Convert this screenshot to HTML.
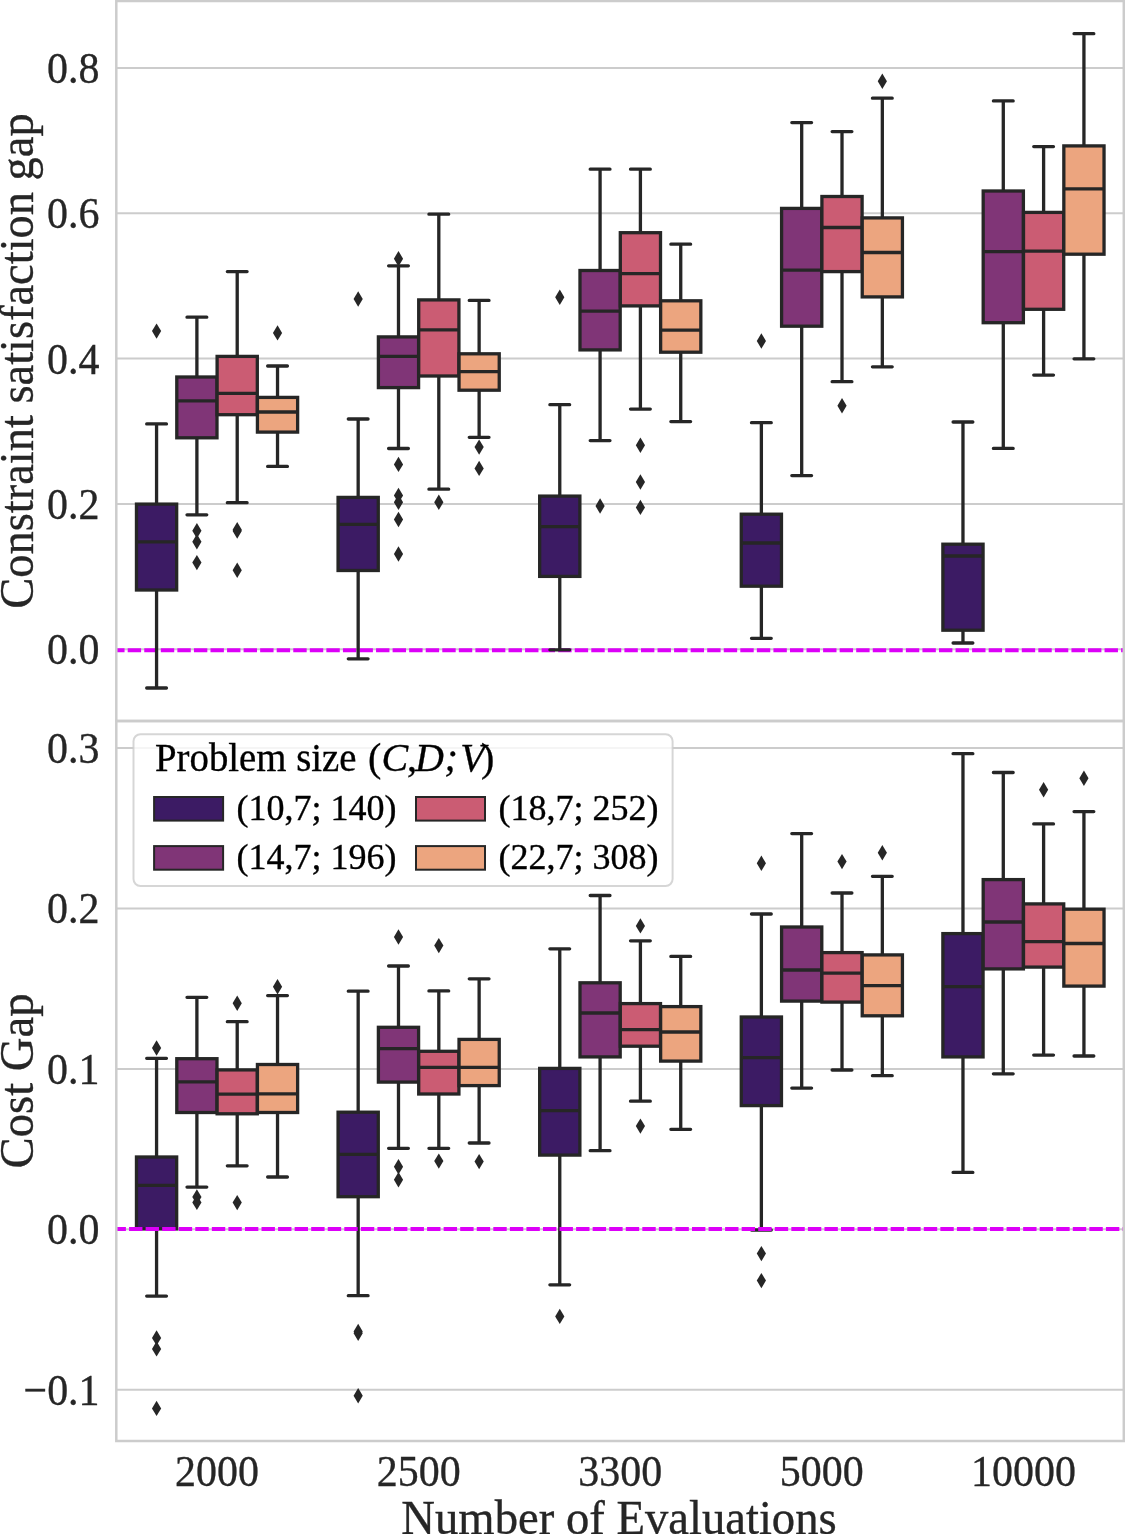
<!DOCTYPE html>
<html><head><meta charset="utf-8"><style>
html,body{margin:0;padding:0;background:#fff;width:1125px;height:1534px;overflow:hidden}
svg{display:block;will-change:transform}
text{font-family:"Liberation Serif",serif}
</style></head><body>
<svg width="1125" height="1534" viewBox="0 0 1125 1534">
<rect width="1125" height="1534" fill="#ffffff"/>
<defs><clipPath id="ct"><rect x="116" y="1" width="1008" height="720"/></clipPath><clipPath id="cb"><rect x="116" y="721" width="1008" height="720"/></clipPath></defs>
<g clip-path="url(#ct)">
<path d="M116.25 649.3H1124.25" stroke="#cccccc" stroke-width="2" fill="none"/>
<path d="M116.25 503.96H1124.25" stroke="#cccccc" stroke-width="2" fill="none"/>
<path d="M116.25 358.62H1124.25" stroke="#cccccc" stroke-width="2" fill="none"/>
<path d="M116.25 213.28H1124.25" stroke="#cccccc" stroke-width="2" fill="none"/>
<path d="M116.25 67.94H1124.25" stroke="#cccccc" stroke-width="2" fill="none"/>
<path d="M111.14 650.3H1130" stroke="#dc00f8" stroke-width="4" stroke-dasharray="13.4 3.157" fill="none"/>
<path d="M156.57 504.1V423.9M156.57 590V688" stroke="#262626" stroke-width="3.3" fill="none"/>
<path d="M146.69 423.9H166.45M146.69 688H166.45" stroke="#262626" stroke-width="3.3" stroke-linecap="round" fill="none"/>
<rect x="136.47" y="504.1" width="40.2" height="85.9" fill="#3c1b64" stroke="#262626" stroke-width="3.3"/>
<path d="M136.47 541.8H176.67" stroke="#262626" stroke-width="3.3" fill="none"/>
<path d="M156.57 323.4L161.17 331.1L156.57 338.8L151.97 331.1Z" fill="#262626"/>
<path d="M196.89 377V317.2M196.89 437.8V514.8" stroke="#262626" stroke-width="3.3" fill="none"/>
<path d="M187.01 317.2H206.77M187.01 514.8H206.77" stroke="#262626" stroke-width="3.3" stroke-linecap="round" fill="none"/>
<rect x="176.79" y="377" width="40.2" height="60.8" fill="#803577" stroke="#262626" stroke-width="3.3"/>
<path d="M176.79 400.8H216.99" stroke="#262626" stroke-width="3.3" fill="none"/>
<path d="M196.89 523.1L201.49 530.8L196.89 538.5L192.29 530.8Z" fill="#262626"/>
<path d="M196.89 534.1L201.49 541.8L196.89 549.5L192.29 541.8Z" fill="#262626"/>
<path d="M196.89 554.9L201.49 562.6L196.89 570.3L192.29 562.6Z" fill="#262626"/>
<path d="M237.21 356.4V271.6M237.21 414.7V502.7" stroke="#262626" stroke-width="3.3" fill="none"/>
<path d="M227.33 271.6H247.09M227.33 502.7H247.09" stroke="#262626" stroke-width="3.3" stroke-linecap="round" fill="none"/>
<rect x="217.11" y="356.4" width="40.2" height="58.3" fill="#cb5c73" stroke="#262626" stroke-width="3.3"/>
<path d="M217.11 393.3H257.31" stroke="#262626" stroke-width="3.3" fill="none"/>
<path d="M237.21 522L241.81 529.7L237.21 537.4L232.61 529.7Z" fill="#262626"/>
<path d="M237.21 523.4L241.81 531.1L237.21 538.8L232.61 531.1Z" fill="#262626"/>
<path d="M237.21 562.5L241.81 570.2L237.21 577.9L232.61 570.2Z" fill="#262626"/>
<path d="M277.53 397.4V366M277.53 432.1V466.4" stroke="#262626" stroke-width="3.3" fill="none"/>
<path d="M267.65 366H287.41M267.65 466.4H287.41" stroke="#262626" stroke-width="3.3" stroke-linecap="round" fill="none"/>
<rect x="257.43" y="397.4" width="40.2" height="34.7" fill="#eca57f" stroke="#262626" stroke-width="3.3"/>
<path d="M257.43 412H297.63" stroke="#262626" stroke-width="3.3" fill="none"/>
<path d="M277.53 325.2L282.13 332.9L277.53 340.6L272.93 332.9Z" fill="#262626"/>
<path d="M358.17 497.4V419M358.17 570.5V658.8" stroke="#262626" stroke-width="3.3" fill="none"/>
<path d="M348.29 419H368.05M348.29 658.8H368.05" stroke="#262626" stroke-width="3.3" stroke-linecap="round" fill="none"/>
<rect x="338.07" y="497.4" width="40.2" height="73.1" fill="#3c1b64" stroke="#262626" stroke-width="3.3"/>
<path d="M338.07 524.4H378.27" stroke="#262626" stroke-width="3.3" fill="none"/>
<path d="M358.17 291.3L362.77 299L358.17 306.7L353.57 299Z" fill="#262626"/>
<path d="M398.49 336.9V265.8M398.49 387.6V448.5" stroke="#262626" stroke-width="3.3" fill="none"/>
<path d="M388.61 265.8H408.37M388.61 448.5H408.37" stroke="#262626" stroke-width="3.3" stroke-linecap="round" fill="none"/>
<rect x="378.39" y="336.9" width="40.2" height="50.7" fill="#803577" stroke="#262626" stroke-width="3.3"/>
<path d="M378.39 356.4H418.59" stroke="#262626" stroke-width="3.3" fill="none"/>
<path d="M398.49 251L403.09 258.7L398.49 266.4L393.89 258.7Z" fill="#262626"/>
<path d="M398.49 456.7L403.09 464.4L398.49 472.1L393.89 464.4Z" fill="#262626"/>
<path d="M398.49 487.7L403.09 495.4L398.49 503.1L393.89 495.4Z" fill="#262626"/>
<path d="M398.49 494.5L403.09 502.2L398.49 509.9L393.89 502.2Z" fill="#262626"/>
<path d="M398.49 511.8L403.09 519.5L398.49 527.2L393.89 519.5Z" fill="#262626"/>
<path d="M398.49 546.3L403.09 554L398.49 561.7L393.89 554Z" fill="#262626"/>
<path d="M438.81 299.9V214.2M438.81 376V489.2" stroke="#262626" stroke-width="3.3" fill="none"/>
<path d="M428.93 214.2H448.69M428.93 489.2H448.69" stroke="#262626" stroke-width="3.3" stroke-linecap="round" fill="none"/>
<rect x="418.71" y="299.9" width="40.2" height="76.1" fill="#cb5c73" stroke="#262626" stroke-width="3.3"/>
<path d="M418.71 329.8H458.91" stroke="#262626" stroke-width="3.3" fill="none"/>
<path d="M438.81 494.5L443.41 502.2L438.81 509.9L434.21 502.2Z" fill="#262626"/>
<path d="M479.13 353.8V300.4M479.13 390.2V437.3" stroke="#262626" stroke-width="3.3" fill="none"/>
<path d="M469.25 300.4H489.01M469.25 437.3H489.01" stroke="#262626" stroke-width="3.3" stroke-linecap="round" fill="none"/>
<rect x="459.03" y="353.8" width="40.2" height="36.4" fill="#eca57f" stroke="#262626" stroke-width="3.3"/>
<path d="M459.03 371.6H499.23" stroke="#262626" stroke-width="3.3" fill="none"/>
<path d="M479.13 439.4L483.73 447.1L479.13 454.8L474.53 447.1Z" fill="#262626"/>
<path d="M479.13 460.7L483.73 468.4L479.13 476.1L474.53 468.4Z" fill="#262626"/>
<path d="M559.77 496.1V404.7M559.77 576.4V649.8" stroke="#262626" stroke-width="3.3" fill="none"/>
<path d="M549.89 404.7H569.65M549.89 649.8H569.65" stroke="#262626" stroke-width="3.3" stroke-linecap="round" fill="none"/>
<rect x="539.67" y="496.1" width="40.2" height="80.3" fill="#3c1b64" stroke="#262626" stroke-width="3.3"/>
<path d="M539.67 526.6H579.87" stroke="#262626" stroke-width="3.3" fill="none"/>
<path d="M559.77 289.5L564.37 297.2L559.77 304.9L555.17 297.2Z" fill="#262626"/>
<path d="M600.09 270.5V169.2M600.09 349.9V440.6" stroke="#262626" stroke-width="3.3" fill="none"/>
<path d="M590.21 169.2H609.97M590.21 440.6H609.97" stroke="#262626" stroke-width="3.3" stroke-linecap="round" fill="none"/>
<rect x="579.99" y="270.5" width="40.2" height="79.4" fill="#803577" stroke="#262626" stroke-width="3.3"/>
<path d="M579.99 311.1H620.19" stroke="#262626" stroke-width="3.3" fill="none"/>
<path d="M600.09 498.3L604.69 506L600.09 513.7L595.49 506Z" fill="#262626"/>
<path d="M640.41 232.7V169.2M640.41 305.9V409.1" stroke="#262626" stroke-width="3.3" fill="none"/>
<path d="M630.53 169.2H650.29M630.53 409.1H650.29" stroke="#262626" stroke-width="3.3" stroke-linecap="round" fill="none"/>
<rect x="620.31" y="232.7" width="40.2" height="73.2" fill="#cb5c73" stroke="#262626" stroke-width="3.3"/>
<path d="M620.31 273.6H660.51" stroke="#262626" stroke-width="3.3" fill="none"/>
<path d="M640.41 437.5L645.01 445.2L640.41 452.9L635.81 445.2Z" fill="#262626"/>
<path d="M640.41 474.3L645.01 482L640.41 489.7L635.81 482Z" fill="#262626"/>
<path d="M640.41 499.7L645.01 507.4L640.41 515.1L635.81 507.4Z" fill="#262626"/>
<path d="M680.73 300.8V244.2M680.73 352.2V421.6" stroke="#262626" stroke-width="3.3" fill="none"/>
<path d="M670.85 244.2H690.61M670.85 421.6H690.61" stroke="#262626" stroke-width="3.3" stroke-linecap="round" fill="none"/>
<rect x="660.63" y="300.8" width="40.2" height="51.4" fill="#eca57f" stroke="#262626" stroke-width="3.3"/>
<path d="M660.63 330.1H700.83" stroke="#262626" stroke-width="3.3" fill="none"/>
<path d="M761.37 514.2V422.7M761.37 586.2V638.3" stroke="#262626" stroke-width="3.3" fill="none"/>
<path d="M751.49 422.7H771.25M751.49 638.3H771.25" stroke="#262626" stroke-width="3.3" stroke-linecap="round" fill="none"/>
<rect x="741.27" y="514.2" width="40.2" height="72" fill="#3c1b64" stroke="#262626" stroke-width="3.3"/>
<path d="M741.27 543H781.47" stroke="#262626" stroke-width="3.3" fill="none"/>
<path d="M761.37 333.3L765.97 341L761.37 348.7L756.77 341Z" fill="#262626"/>
<path d="M801.69 208.4V122.6M801.69 326.2V475.6" stroke="#262626" stroke-width="3.3" fill="none"/>
<path d="M791.81 122.6H811.57M791.81 475.6H811.57" stroke="#262626" stroke-width="3.3" stroke-linecap="round" fill="none"/>
<rect x="781.59" y="208.4" width="40.2" height="117.8" fill="#803577" stroke="#262626" stroke-width="3.3"/>
<path d="M781.59 270.2H821.79" stroke="#262626" stroke-width="3.3" fill="none"/>
<path d="M842.01 196.5V131.6M842.01 271.6V381.7" stroke="#262626" stroke-width="3.3" fill="none"/>
<path d="M832.13 131.6H851.89M832.13 381.7H851.89" stroke="#262626" stroke-width="3.3" stroke-linecap="round" fill="none"/>
<rect x="821.91" y="196.5" width="40.2" height="75.1" fill="#cb5c73" stroke="#262626" stroke-width="3.3"/>
<path d="M821.91 227.5H862.11" stroke="#262626" stroke-width="3.3" fill="none"/>
<path d="M842.01 398L846.61 405.7L842.01 413.4L837.41 405.7Z" fill="#262626"/>
<path d="M882.33 217.9V98.2M882.33 296.9V366.8" stroke="#262626" stroke-width="3.3" fill="none"/>
<path d="M872.45 98.2H892.21M872.45 366.8H892.21" stroke="#262626" stroke-width="3.3" stroke-linecap="round" fill="none"/>
<rect x="862.23" y="217.9" width="40.2" height="79" fill="#eca57f" stroke="#262626" stroke-width="3.3"/>
<path d="M862.23 252.5H902.43" stroke="#262626" stroke-width="3.3" fill="none"/>
<path d="M882.33 73.6L886.93 81.3L882.33 89L877.73 81.3Z" fill="#262626"/>
<path d="M962.97 544.2V422M962.97 630.2V643" stroke="#262626" stroke-width="3.3" fill="none"/>
<path d="M953.09 422H972.85M953.09 643H972.85" stroke="#262626" stroke-width="3.3" stroke-linecap="round" fill="none"/>
<rect x="942.87" y="544.2" width="40.2" height="86" fill="#3c1b64" stroke="#262626" stroke-width="3.3"/>
<path d="M942.87 556H983.07" stroke="#262626" stroke-width="3.3" fill="none"/>
<path d="M1003.29 191V100.9M1003.29 322.7V448.4" stroke="#262626" stroke-width="3.3" fill="none"/>
<path d="M993.41 100.9H1013.17M993.41 448.4H1013.17" stroke="#262626" stroke-width="3.3" stroke-linecap="round" fill="none"/>
<rect x="983.19" y="191" width="40.2" height="131.7" fill="#803577" stroke="#262626" stroke-width="3.3"/>
<path d="M983.19 251.6H1023.39" stroke="#262626" stroke-width="3.3" fill="none"/>
<path d="M1043.61 212.4V146.6M1043.61 309.3V375.1" stroke="#262626" stroke-width="3.3" fill="none"/>
<path d="M1033.73 146.6H1053.49M1033.73 375.1H1053.49" stroke="#262626" stroke-width="3.3" stroke-linecap="round" fill="none"/>
<rect x="1023.51" y="212.4" width="40.2" height="96.9" fill="#cb5c73" stroke="#262626" stroke-width="3.3"/>
<path d="M1023.51 251.2H1063.71" stroke="#262626" stroke-width="3.3" fill="none"/>
<path d="M1083.93 145.9V33.7M1083.93 254.2V358.8" stroke="#262626" stroke-width="3.3" fill="none"/>
<path d="M1074.05 33.7H1093.81M1074.05 358.8H1093.81" stroke="#262626" stroke-width="3.3" stroke-linecap="round" fill="none"/>
<rect x="1063.83" y="145.9" width="40.2" height="108.3" fill="#eca57f" stroke="#262626" stroke-width="3.3"/>
<path d="M1063.83 188.9H1104.03" stroke="#262626" stroke-width="3.3" fill="none"/>
</g>
<g clip-path="url(#cb)">
<path d="M116.25 1389.8H1124.25" stroke="#cccccc" stroke-width="2" fill="none"/>
<path d="M116.25 1229.35H1124.25" stroke="#cccccc" stroke-width="2" fill="none"/>
<path d="M116.25 1068.9H1124.25" stroke="#cccccc" stroke-width="2" fill="none"/>
<path d="M116.25 908.45H1124.25" stroke="#cccccc" stroke-width="2" fill="none"/>
<path d="M116.25 748H1124.25" stroke="#cccccc" stroke-width="2" fill="none"/>
<path d="M156.57 1157V1058.3M156.57 1228.9V1296.1" stroke="#262626" stroke-width="3.3" fill="none"/>
<path d="M146.69 1058.3H166.45M146.69 1296.1H166.45" stroke="#262626" stroke-width="3.3" stroke-linecap="round" fill="none"/>
<rect x="136.47" y="1157" width="40.2" height="71.9" fill="#3c1b64" stroke="#262626" stroke-width="3.3"/>
<path d="M136.47 1185.3H176.67" stroke="#262626" stroke-width="3.3" fill="none"/>
<path d="M156.57 1040.3L161.17 1048L156.57 1055.7L151.97 1048Z" fill="#262626"/>
<path d="M156.57 1330.2L161.17 1337.9L156.57 1345.6L151.97 1337.9Z" fill="#262626"/>
<path d="M156.57 1341.2L161.17 1348.9L156.57 1356.6L151.97 1348.9Z" fill="#262626"/>
<path d="M156.57 1400.7L161.17 1408.4L156.57 1416.1L151.97 1408.4Z" fill="#262626"/>
<path d="M196.89 1058.7V997.3M196.89 1112.5V1187.1" stroke="#262626" stroke-width="3.3" fill="none"/>
<path d="M187.01 997.3H206.77M187.01 1187.1H206.77" stroke="#262626" stroke-width="3.3" stroke-linecap="round" fill="none"/>
<rect x="176.79" y="1058.7" width="40.2" height="53.8" fill="#803577" stroke="#262626" stroke-width="3.3"/>
<path d="M176.79 1081.8H216.99" stroke="#262626" stroke-width="3.3" fill="none"/>
<path d="M196.89 1189.3L201.49 1197L196.89 1204.7L192.29 1197Z" fill="#262626"/>
<path d="M196.89 1194.7L201.49 1202.4L196.89 1210.1L192.29 1202.4Z" fill="#262626"/>
<path d="M237.21 1069.9V1021.7M237.21 1113.8V1165.8" stroke="#262626" stroke-width="3.3" fill="none"/>
<path d="M227.33 1021.7H247.09M227.33 1165.8H247.09" stroke="#262626" stroke-width="3.3" stroke-linecap="round" fill="none"/>
<rect x="217.11" y="1069.9" width="40.2" height="43.9" fill="#cb5c73" stroke="#262626" stroke-width="3.3"/>
<path d="M217.11 1094.2H257.31" stroke="#262626" stroke-width="3.3" fill="none"/>
<path d="M237.21 995.5L241.81 1003.2L237.21 1010.9L232.61 1003.2Z" fill="#262626"/>
<path d="M237.21 1194.9L241.81 1202.6L237.21 1210.3L232.61 1202.6Z" fill="#262626"/>
<path d="M277.53 1064.5V995.6M277.53 1112.5V1177" stroke="#262626" stroke-width="3.3" fill="none"/>
<path d="M267.65 995.6H287.41M267.65 1177H287.41" stroke="#262626" stroke-width="3.3" stroke-linecap="round" fill="none"/>
<rect x="257.43" y="1064.5" width="40.2" height="48" fill="#eca57f" stroke="#262626" stroke-width="3.3"/>
<path d="M257.43 1093.8H297.63" stroke="#262626" stroke-width="3.3" fill="none"/>
<path d="M277.53 979L282.13 986.7L277.53 994.4L272.93 986.7Z" fill="#262626"/>
<path d="M358.17 1112.2V991.2M358.17 1196.7V1295.7" stroke="#262626" stroke-width="3.3" fill="none"/>
<path d="M348.29 991.2H368.05M348.29 1295.7H368.05" stroke="#262626" stroke-width="3.3" stroke-linecap="round" fill="none"/>
<rect x="338.07" y="1112.2" width="40.2" height="84.5" fill="#3c1b64" stroke="#262626" stroke-width="3.3"/>
<path d="M338.07 1154.4H378.27" stroke="#262626" stroke-width="3.3" fill="none"/>
<path d="M358.17 1323.7L362.77 1331.4L358.17 1339.1L353.57 1331.4Z" fill="#262626"/>
<path d="M358.17 1325.5L362.77 1333.2L358.17 1340.9L353.57 1333.2Z" fill="#262626"/>
<path d="M358.17 1388.1L362.77 1395.8L358.17 1403.5L353.57 1395.8Z" fill="#262626"/>
<path d="M398.49 1027.3V966M398.49 1082.1V1148.3" stroke="#262626" stroke-width="3.3" fill="none"/>
<path d="M388.61 966H408.37M388.61 1148.3H408.37" stroke="#262626" stroke-width="3.3" stroke-linecap="round" fill="none"/>
<rect x="378.39" y="1027.3" width="40.2" height="54.8" fill="#803577" stroke="#262626" stroke-width="3.3"/>
<path d="M378.39 1048.7H418.59" stroke="#262626" stroke-width="3.3" fill="none"/>
<path d="M398.49 929.3L403.09 937L398.49 944.7L393.89 937Z" fill="#262626"/>
<path d="M398.49 1159.1L403.09 1166.8L398.49 1174.5L393.89 1166.8Z" fill="#262626"/>
<path d="M398.49 1172.1L403.09 1179.8L398.49 1187.5L393.89 1179.8Z" fill="#262626"/>
<path d="M438.81 1051.3V990.9M438.81 1094V1148.3" stroke="#262626" stroke-width="3.3" fill="none"/>
<path d="M428.93 990.9H448.69M428.93 1148.3H448.69" stroke="#262626" stroke-width="3.3" stroke-linecap="round" fill="none"/>
<rect x="418.71" y="1051.3" width="40.2" height="42.7" fill="#cb5c73" stroke="#262626" stroke-width="3.3"/>
<path d="M418.71 1067.3H458.91" stroke="#262626" stroke-width="3.3" fill="none"/>
<path d="M438.81 937.9L443.41 945.6L438.81 953.3L434.21 945.6Z" fill="#262626"/>
<path d="M438.81 1153.4L443.41 1161.1L438.81 1168.8L434.21 1161.1Z" fill="#262626"/>
<path d="M479.13 1039.4V978.8M479.13 1085.6V1143" stroke="#262626" stroke-width="3.3" fill="none"/>
<path d="M469.25 978.8H489.01M469.25 1143H489.01" stroke="#262626" stroke-width="3.3" stroke-linecap="round" fill="none"/>
<rect x="459.03" y="1039.4" width="40.2" height="46.2" fill="#eca57f" stroke="#262626" stroke-width="3.3"/>
<path d="M459.03 1067.3H499.23" stroke="#262626" stroke-width="3.3" fill="none"/>
<path d="M479.13 1153.9L483.73 1161.6L479.13 1169.3L474.53 1161.6Z" fill="#262626"/>
<path d="M559.77 1068.4V948.8M559.77 1155.1V1284.8" stroke="#262626" stroke-width="3.3" fill="none"/>
<path d="M549.89 948.8H569.65M549.89 1284.8H569.65" stroke="#262626" stroke-width="3.3" stroke-linecap="round" fill="none"/>
<rect x="539.67" y="1068.4" width="40.2" height="86.7" fill="#3c1b64" stroke="#262626" stroke-width="3.3"/>
<path d="M539.67 1110.7H579.87" stroke="#262626" stroke-width="3.3" fill="none"/>
<path d="M559.77 1308.7L564.37 1316.4L559.77 1324.1L555.17 1316.4Z" fill="#262626"/>
<path d="M600.09 982.8V895.5M600.09 1056.9V1150.7" stroke="#262626" stroke-width="3.3" fill="none"/>
<path d="M590.21 895.5H609.97M590.21 1150.7H609.97" stroke="#262626" stroke-width="3.3" stroke-linecap="round" fill="none"/>
<rect x="579.99" y="982.8" width="40.2" height="74.1" fill="#803577" stroke="#262626" stroke-width="3.3"/>
<path d="M579.99 1013H620.19" stroke="#262626" stroke-width="3.3" fill="none"/>
<path d="M640.41 1003.6V940.8M640.41 1046.2V1101.2" stroke="#262626" stroke-width="3.3" fill="none"/>
<path d="M630.53 940.8H650.29M630.53 1101.2H650.29" stroke="#262626" stroke-width="3.3" stroke-linecap="round" fill="none"/>
<rect x="620.31" y="1003.6" width="40.2" height="42.6" fill="#cb5c73" stroke="#262626" stroke-width="3.3"/>
<path d="M620.31 1029.7H660.51" stroke="#262626" stroke-width="3.3" fill="none"/>
<path d="M640.41 918.2L645.01 925.9L640.41 933.6L635.81 925.9Z" fill="#262626"/>
<path d="M640.41 1118.4L645.01 1126.1L640.41 1133.8L635.81 1126.1Z" fill="#262626"/>
<path d="M680.73 1006.6V956.4M680.73 1061.1V1129.3" stroke="#262626" stroke-width="3.3" fill="none"/>
<path d="M670.85 956.4H690.61M670.85 1129.3H690.61" stroke="#262626" stroke-width="3.3" stroke-linecap="round" fill="none"/>
<rect x="660.63" y="1006.6" width="40.2" height="54.5" fill="#eca57f" stroke="#262626" stroke-width="3.3"/>
<path d="M660.63 1032H700.83" stroke="#262626" stroke-width="3.3" fill="none"/>
<path d="M761.37 1017V914M761.37 1105.6V1230" stroke="#262626" stroke-width="3.3" fill="none"/>
<path d="M751.49 914H771.25M751.49 1230H771.25" stroke="#262626" stroke-width="3.3" stroke-linecap="round" fill="none"/>
<rect x="741.27" y="1017" width="40.2" height="88.6" fill="#3c1b64" stroke="#262626" stroke-width="3.3"/>
<path d="M741.27 1057.6H781.47" stroke="#262626" stroke-width="3.3" fill="none"/>
<path d="M761.37 855.6L765.97 863.3L761.37 871L756.77 863.3Z" fill="#262626"/>
<path d="M761.37 1245.9L765.97 1253.6L761.37 1261.3L756.77 1253.6Z" fill="#262626"/>
<path d="M761.37 1272.9L765.97 1280.6L761.37 1288.3L756.77 1280.6Z" fill="#262626"/>
<path d="M801.69 927V833.6M801.69 1001.1V1088.1" stroke="#262626" stroke-width="3.3" fill="none"/>
<path d="M791.81 833.6H811.57M791.81 1088.1H811.57" stroke="#262626" stroke-width="3.3" stroke-linecap="round" fill="none"/>
<rect x="781.59" y="927" width="40.2" height="74.1" fill="#803577" stroke="#262626" stroke-width="3.3"/>
<path d="M781.59 970H821.79" stroke="#262626" stroke-width="3.3" fill="none"/>
<path d="M842.01 952.6V893M842.01 1002.1V1070" stroke="#262626" stroke-width="3.3" fill="none"/>
<path d="M832.13 893H851.89M832.13 1070H851.89" stroke="#262626" stroke-width="3.3" stroke-linecap="round" fill="none"/>
<rect x="821.91" y="952.6" width="40.2" height="49.5" fill="#cb5c73" stroke="#262626" stroke-width="3.3"/>
<path d="M821.91 973.2H862.11" stroke="#262626" stroke-width="3.3" fill="none"/>
<path d="M842.01 853.9L846.61 861.6L842.01 869.3L837.41 861.6Z" fill="#262626"/>
<path d="M882.33 954.9V876.3M882.33 1015.8V1075.7" stroke="#262626" stroke-width="3.3" fill="none"/>
<path d="M872.45 876.3H892.21M872.45 1075.7H892.21" stroke="#262626" stroke-width="3.3" stroke-linecap="round" fill="none"/>
<rect x="862.23" y="954.9" width="40.2" height="60.9" fill="#eca57f" stroke="#262626" stroke-width="3.3"/>
<path d="M862.23 985.6H902.43" stroke="#262626" stroke-width="3.3" fill="none"/>
<path d="M882.33 845L886.93 852.7L882.33 860.4L877.73 852.7Z" fill="#262626"/>
<path d="M962.97 933.6V753.7M962.97 1056.9V1172.4" stroke="#262626" stroke-width="3.3" fill="none"/>
<path d="M953.09 753.7H972.85M953.09 1172.4H972.85" stroke="#262626" stroke-width="3.3" stroke-linecap="round" fill="none"/>
<rect x="942.87" y="933.6" width="40.2" height="123.3" fill="#3c1b64" stroke="#262626" stroke-width="3.3"/>
<path d="M942.87 986.7H983.07" stroke="#262626" stroke-width="3.3" fill="none"/>
<path d="M1003.29 879.6V772.5M1003.29 968.9V1073.8" stroke="#262626" stroke-width="3.3" fill="none"/>
<path d="M993.41 772.5H1013.17M993.41 1073.8H1013.17" stroke="#262626" stroke-width="3.3" stroke-linecap="round" fill="none"/>
<rect x="983.19" y="879.6" width="40.2" height="89.3" fill="#803577" stroke="#262626" stroke-width="3.3"/>
<path d="M983.19 922H1023.39" stroke="#262626" stroke-width="3.3" fill="none"/>
<path d="M1043.61 903.9V823.9M1043.61 967.1V1055.1" stroke="#262626" stroke-width="3.3" fill="none"/>
<path d="M1033.73 823.9H1053.49M1033.73 1055.1H1053.49" stroke="#262626" stroke-width="3.3" stroke-linecap="round" fill="none"/>
<rect x="1023.51" y="903.9" width="40.2" height="63.2" fill="#cb5c73" stroke="#262626" stroke-width="3.3"/>
<path d="M1023.51 941.7H1063.71" stroke="#262626" stroke-width="3.3" fill="none"/>
<path d="M1043.61 782.1L1048.21 789.8L1043.61 797.5L1039.01 789.8Z" fill="#262626"/>
<path d="M1083.93 909.2V811.6M1083.93 986.1V1056" stroke="#262626" stroke-width="3.3" fill="none"/>
<path d="M1074.05 811.6H1093.81M1074.05 1056H1093.81" stroke="#262626" stroke-width="3.3" stroke-linecap="round" fill="none"/>
<rect x="1063.83" y="909.2" width="40.2" height="76.9" fill="#eca57f" stroke="#262626" stroke-width="3.3"/>
<path d="M1063.83 943.5H1104.03" stroke="#262626" stroke-width="3.3" fill="none"/>
<path d="M1083.93 770.5L1088.53 778.2L1083.93 785.9L1079.33 778.2Z" fill="#262626"/>
<path d="M112.5 1228.9H1130" stroke="#dc00f8" stroke-width="4" stroke-dasharray="13.4 3.157" fill="none"/>
</g>
<rect x="116.3" y="1" width="1007.5" height="720" fill="none" stroke="#cccccc" stroke-width="2.5"/>
<rect x="116.3" y="721" width="1007.5" height="720" fill="none" stroke="#cccccc" stroke-width="2.5"/>
<text transform="translate(99.6,664.3) scale(0.95,1)" text-anchor="end" font-size="44.2" font-family="Liberation Serif" fill="#262626" stroke="#262626" stroke-width="0.35">0.0</text>
<text transform="translate(99.6,518.96) scale(0.95,1)" text-anchor="end" font-size="44.2" font-family="Liberation Serif" fill="#262626" stroke="#262626" stroke-width="0.35">0.2</text>
<text transform="translate(99.6,373.62) scale(0.95,1)" text-anchor="end" font-size="44.2" font-family="Liberation Serif" fill="#262626" stroke="#262626" stroke-width="0.35">0.4</text>
<text transform="translate(99.6,228.28) scale(0.95,1)" text-anchor="end" font-size="44.2" font-family="Liberation Serif" fill="#262626" stroke="#262626" stroke-width="0.35">0.6</text>
<text transform="translate(99.6,82.94) scale(0.95,1)" text-anchor="end" font-size="44.2" font-family="Liberation Serif" fill="#262626" stroke="#262626" stroke-width="0.35">0.8</text>
<text transform="translate(99.6,1404.8) scale(0.95,1)" text-anchor="end" font-size="44.2" font-family="Liberation Serif" fill="#262626" stroke="#262626" stroke-width="0.35">−0.1</text>
<text transform="translate(99.6,1244.35) scale(0.95,1)" text-anchor="end" font-size="44.2" font-family="Liberation Serif" fill="#262626" stroke="#262626" stroke-width="0.35">0.0</text>
<text transform="translate(99.6,1083.9) scale(0.95,1)" text-anchor="end" font-size="44.2" font-family="Liberation Serif" fill="#262626" stroke="#262626" stroke-width="0.35">0.1</text>
<text transform="translate(99.6,923.45) scale(0.95,1)" text-anchor="end" font-size="44.2" font-family="Liberation Serif" fill="#262626" stroke="#262626" stroke-width="0.35">0.2</text>
<text transform="translate(99.6,763) scale(0.95,1)" text-anchor="end" font-size="44.2" font-family="Liberation Serif" fill="#262626" stroke="#262626" stroke-width="0.35">0.3</text>
<text transform="translate(217.05,1486) scale(0.95,1)" text-anchor="middle" font-size="44.2" font-family="Liberation Serif" fill="#262626" stroke="#262626" stroke-width="0.35">2000</text>
<text transform="translate(418.65,1486) scale(0.95,1)" text-anchor="middle" font-size="44.2" font-family="Liberation Serif" fill="#262626" stroke="#262626" stroke-width="0.35">2500</text>
<text transform="translate(620.25,1486) scale(0.95,1)" text-anchor="middle" font-size="44.2" font-family="Liberation Serif" fill="#262626" stroke="#262626" stroke-width="0.35">3300</text>
<text transform="translate(821.85,1486) scale(0.95,1)" text-anchor="middle" font-size="44.2" font-family="Liberation Serif" fill="#262626" stroke="#262626" stroke-width="0.35">5000</text>
<text transform="translate(1023.45,1486) scale(0.95,1)" text-anchor="middle" font-size="44.2" font-family="Liberation Serif" fill="#262626" stroke="#262626" stroke-width="0.35">10000</text>
<text transform="translate(619,1533.5) scale(0.972,1)" text-anchor="middle" font-size="48" font-family="Liberation Serif" fill="#262626" stroke="#262626" stroke-width="0.35">Number of Evaluations</text>
<text transform="translate(33,361) rotate(-90) scale(0.968,1)" text-anchor="middle" font-size="48" font-family="Liberation Serif" fill="#262626" stroke="#262626" stroke-width="0.35">Constraint satisfaction gap</text>
<text transform="translate(33,1081) rotate(-90) scale(0.972,1)" text-anchor="middle" font-size="48" font-family="Liberation Serif" fill="#262626" stroke="#262626" stroke-width="0.35">Cost Gap</text>
<rect x="133.5" y="734.25" width="539.1" height="151.75" rx="7" ry="7" fill="#ffffff" fill-opacity="0.8" stroke="#cccccc" stroke-opacity="0.8" stroke-width="2"/>
<text transform="translate(155,770.8) scale(0.97,1)" text-anchor="start" font-size="40" font-family="Liberation Serif" fill="#000" stroke="#000" stroke-width="0.35">Problem size</text>
<text transform="translate(368,770.8)" text-anchor="start" font-size="40" font-family="Liberation Serif" fill="#000" stroke="#000" stroke-width="0.35">(</text>
<text transform="translate(381.5,770.8)" text-anchor="start" font-size="40" font-family="Liberation Serif" fill="#000" stroke="#000" stroke-width="0.35" font-style="italic">C</text>
<text transform="translate(407,770.8)" text-anchor="start" font-size="40" font-family="Liberation Serif" fill="#000" stroke="#000" stroke-width="0.35">,</text>
<text transform="translate(415,770.8)" text-anchor="start" font-size="40" font-family="Liberation Serif" fill="#000" stroke="#000" stroke-width="0.35" font-style="italic">D</text>
<text transform="translate(444.5,770.8)" text-anchor="start" font-size="40" font-family="Liberation Serif" fill="#000" stroke="#000" stroke-width="0.35" font-style="italic">;</text>
<text transform="translate(460.2,770.8)" text-anchor="start" font-size="40" font-family="Liberation Serif" fill="#000" stroke="#000" stroke-width="0.35" font-style="italic">V</text>
<text transform="translate(481.1,770.8)" text-anchor="start" font-size="40" font-family="Liberation Serif" fill="#000" stroke="#000" stroke-width="0.35">)</text>
<rect x="154.1" y="797" width="69" height="23.6" fill="#3c1b64" stroke="#262626" stroke-width="2"/>
<text transform="translate(236.6,820.2)" text-anchor="start" font-size="36" font-family="Liberation Serif" fill="#000" stroke="#000" stroke-width="0.35">(10,7; 140)</text>
<rect x="154.1" y="846.1" width="69" height="23.6" fill="#803577" stroke="#262626" stroke-width="2"/>
<text transform="translate(236.6,869.3)" text-anchor="start" font-size="36" font-family="Liberation Serif" fill="#000" stroke="#000" stroke-width="0.35">(14,7; 196)</text>
<rect x="416" y="797" width="69" height="23.6" fill="#cb5c73" stroke="#262626" stroke-width="2"/>
<text transform="translate(498.5,820.2)" text-anchor="start" font-size="36" font-family="Liberation Serif" fill="#000" stroke="#000" stroke-width="0.35">(18,7; 252)</text>
<rect x="416" y="846.1" width="69" height="23.6" fill="#eca57f" stroke="#262626" stroke-width="2"/>
<text transform="translate(498.5,869.3)" text-anchor="start" font-size="36" font-family="Liberation Serif" fill="#000" stroke="#000" stroke-width="0.35">(22,7; 308)</text>
</svg>
</body></html>
